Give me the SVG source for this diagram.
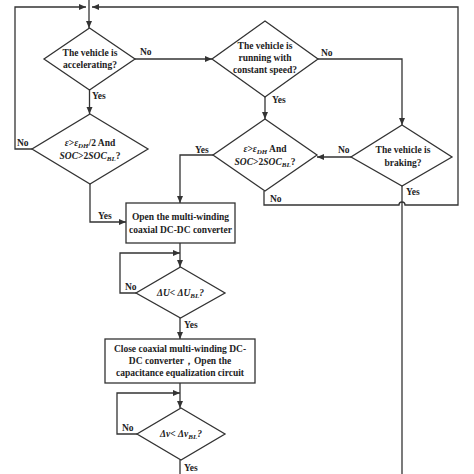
<svg xmlns="http://www.w3.org/2000/svg" width="474" height="474" viewBox="0 0 474 474">
<defs>
<marker id="ah" markerWidth="8" markerHeight="8" refX="7" refY="4" orient="auto" markerUnits="userSpaceOnUse">
<path d="M0,1 L7,4 L0,7 Z" fill="#333"/>
</marker>
<style>
.n{fill:#fff;stroke:#333;stroke-width:1.3}
.c{fill:none;stroke:#333;stroke-width:1.3}
.t{font-family:"Liberation Serif","Times New Roman",serif;font-weight:bold;font-size:9.5px;fill:#222;text-anchor:middle}
.l{font-family:"Liberation Serif","Times New Roman",serif;font-weight:bold;font-size:9.5px;fill:#222}
.i{font-style:italic}
</style>
</defs>
<rect width="474" height="474" fill="#fff"/>
<g id="connectors">
<path class="c" d="M89,0 V28" marker-end="url(#ah)"/>
<path class="c" d="M32,149 H15 V7 H86" marker-end="url(#ah)"/>
<path class="c" d="M264,191 V205 H399 A3,3 0 0 1 405,205 H458 V7 H92" marker-end="url(#ah)"/>
<path class="c" d="M135,59 H212" marker-end="url(#ah)"/>
<path class="c" d="M318,59 H402 V125" marker-end="url(#ah)"/>
<path class="c" d="M265,97 V119" marker-end="url(#ah)"/>
<path class="c" d="M89.5,90 V114" marker-end="url(#ah)"/>
<path class="c" d="M351,157 H317" marker-end="url(#ah)"/>
<path class="c" d="M402,186 V474"/>
<path class="c" d="M213,155 H180 V203" marker-end="url(#ah)"/>
<path class="c" d="M90,184 V222 H126" marker-end="url(#ah)"/>
<path class="c" d="M180,243 V267" marker-end="url(#ah)"/>
<path class="c" d="M136,293 H120 V253 H180" marker-end="url(#ah)"/>
<path class="c" d="M180,318 V339" marker-end="url(#ah)"/>
<path class="c" d="M180,383 V408" marker-end="url(#ah)"/>
<path class="c" d="M137,434 H117 V393 H180" marker-end="url(#ah)"/>
<path class="c" d="M180,460 V474"/>
<text class="l" x="140" y="55">No</text>
<text class="l" x="92" y="99">Yes</text>
<text class="l" x="321" y="56">No</text>
<text class="l" x="272" y="103">Yes</text>
<text class="l" x="17" y="146">No</text>
<text class="l" x="98" y="219">Yes</text>
<text class="l" x="195" y="153">Yes</text>
<text class="l" x="338" y="153">No</text>
<text class="l" x="406" y="195">Yes</text>
<text class="l" x="270" y="202">No</text>
<text class="l" x="125" y="290">No</text>
<text class="l" x="184" y="328">Yes</text>
<text class="l" x="122" y="431">No</text>
<text class="l" x="184" y="471">Yes</text>
</g>
<g id="accelerating">
<polygon class="n" points="89.5,28 135,59 89.5,90 44,59"/>
<text class="t" x="90" y="56">The vehicle is</text>
<text class="t" x="90" y="68">accelerating?</text>
</g>
<g id="constant">
<polygon class="n" points="265,21 318,59 265,97 212,59"/>
<text class="t" x="265" y="49">The vehicle is</text>
<text class="t" x="265" y="61">running with</text>
<text class="t" x="265" y="73">constant speed?</text>
</g>
<g id="braking">
<polygon class="n" points="402,125 452,157 402,186 351,157"/>
<text class="t" x="403" y="153">The vehicle is</text>
<text class="t" x="403" y="166">braking?</text>
</g>
<g id="cond2">
<polygon class="n" points="265,119 317,155 265,191 213,155"/>
<text class="t" x="265" y="152"><tspan class="i">ε</tspan>&gt;<tspan class="i">ε<tspan font-size="7" dy="2">DH</tspan></tspan><tspan dy="-2"> And</tspan></text>
<text class="t" x="265" y="165"><tspan class="i">SOC</tspan>&gt;2<tspan class="i">SOC<tspan font-size="7" dy="2">BL</tspan></tspan><tspan dy="-2">?</tspan></text>
</g>
<g id="cond1">
<polygon class="n" points="90,114 148,149 90,184 32,149"/>
<text class="t" x="90" y="146"><tspan class="i">ε</tspan>&gt;<tspan class="i">ε<tspan font-size="7" dy="2">DH</tspan></tspan><tspan dy="-2">/2 And</tspan></text>
<text class="t" x="90" y="159"><tspan class="i">SOC</tspan>&gt;2<tspan class="i">SOC<tspan font-size="7" dy="2">BL</tspan></tspan><tspan dy="-2">?</tspan></text>
</g>
<g id="open-converter">
<rect class="n" x="126" y="203" width="109" height="40"/>
<text class="t" x="180.5" y="220">Open the multi-winding</text>
<text class="t" x="180.5" y="233">coaxial DC-DC converter</text>
</g>
<g id="du">
<polygon class="n" points="180.5,267 225,293 180.5,318 136,293"/>
<text class="t i" x="180.5" y="296">ΔU&lt; ΔU<tspan font-size="7" dy="2">BL</tspan><tspan dy="-2">?</tspan></text>
</g>
<g id="close-converter">
<rect class="n" x="105" y="339" width="150" height="44"/>
<text class="t" x="180" y="352">Close coaxial multi-winding DC-</text>
<text class="t" x="180" y="364">DC converter，Open the</text>
<text class="t" x="180" y="376">capacitance equalization circuit</text>
</g>
<g id="dv">
<polygon class="n" points="181,408 225,434 181,460 137,434"/>
<text class="t i" x="181" y="437">Δv&lt; Δv<tspan font-size="7" dy="2">BL</tspan><tspan dy="-2">?</tspan></text>
</g>
</svg>
